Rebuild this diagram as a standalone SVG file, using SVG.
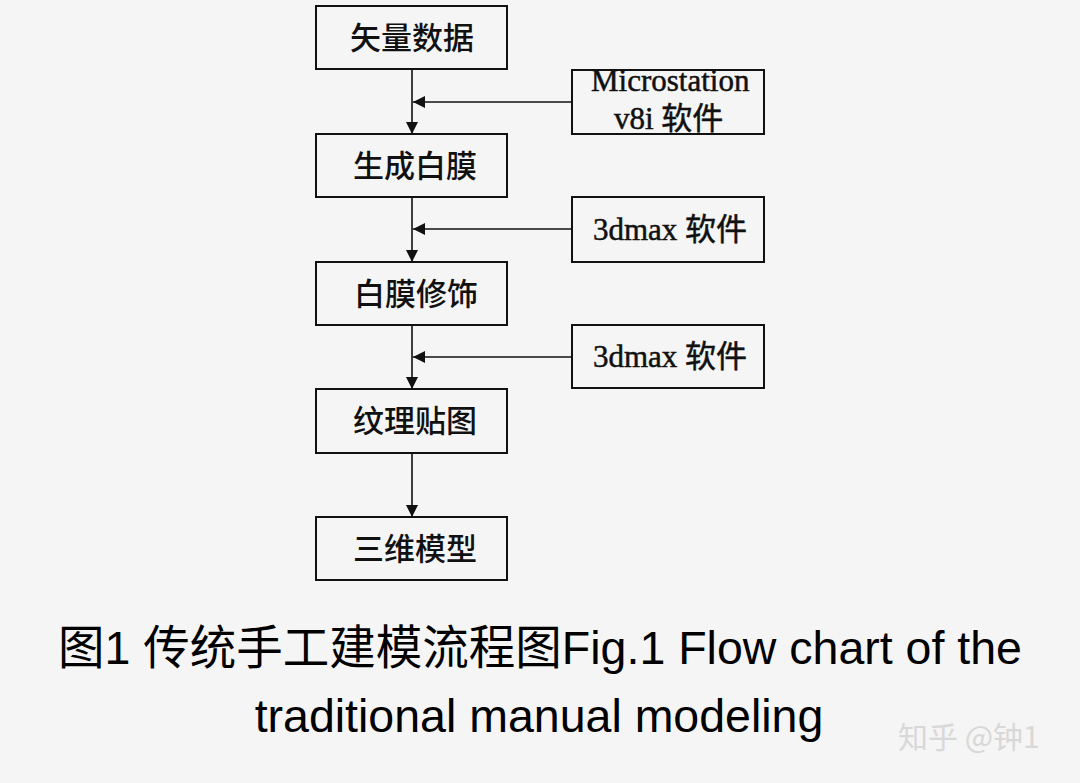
<svg xmlns="http://www.w3.org/2000/svg" width="1080" height="783" viewBox="0 0 1080 783">
<defs>
<style>
.box{fill:none;stroke:#111;stroke-width:2}
.lbl{font-family:"Noto Sans CJK SC","Liberation Serif",serif;font-size:31px;font-weight:500;fill:#111;text-anchor:middle}
.sw{font-family:"Liberation Serif","Noto Sans CJK SC",serif;font-size:31px;fill:#111;stroke:#111;stroke-width:0.5}
.con{stroke:#111;stroke-width:1.6;fill:none;marker-end:url(#ah)}
.cap{font-family:"Liberation Sans","Noto Sans CJK SC",sans-serif;font-size:46.5px;fill:#000;text-anchor:middle}
</style>
<marker id="ah" viewBox="0 0 12 12" refX="12" refY="6" markerWidth="12" markerHeight="12" markerUnits="userSpaceOnUse" orient="auto">
<path d="M0,0 L12,6 L0,12 Z" fill="#111"/>
</marker>
</defs>
<rect width="1080" height="783" fill="#f5f5f5"/>
<g id="n1"><rect class="box" x="316" y="6" width="191" height="63"/><text class="lbl" x="412" y="49">矢量数据</text></g>
<g id="n2"><rect class="box" x="316" y="134" width="191" height="63"/><text class="lbl" x="415" y="177">生成白膜</text></g>
<g id="n3"><rect class="box" x="316" y="262" width="191" height="63"/><text class="lbl" x="416" y="305">白膜修饰</text></g>
<g id="n4"><rect class="box" x="316" y="389" width="191" height="64"/><text class="lbl" x="415" y="432">纹理贴图</text></g>
<g id="n5"><rect class="box" x="316" y="517" width="191" height="63"/><text class="lbl" x="415" y="560">三维模型</text></g>
<g id="s1"><rect class="box" x="572" y="70" width="192" height="64"/><text class="sw" x="591" y="91">Microstation</text><text class="sw" x="614" y="129">v8i 软件</text></g>
<g id="s2"><rect class="box" x="572" y="197" width="192" height="65"/><text class="sw" x="593" y="240">3dmax 软件</text></g>
<g id="s3"><rect class="box" x="572" y="325" width="192" height="63"/><text class="sw" x="593" y="367">3dmax 软件</text></g>
<g id="connectors">
<line class="con" x1="412" y1="69" x2="412" y2="134"/>
<line class="con" x1="412" y1="197" x2="412" y2="262"/>
<line class="con" x1="412" y1="325" x2="412" y2="389"/>
<line class="con" x1="412" y1="453" x2="412" y2="517"/>
<line class="con" x1="572" y1="102" x2="413" y2="102"/>
<line class="con" x1="572" y1="229" x2="413" y2="229"/>
<line class="con" x1="572" y1="357" x2="413" y2="357"/>
</g>
<g id="caption">
<text class="cap" x="540" y="664">图1 传统手工建模流程图Fig.1 Flow chart of the</text>
<text class="cap" x="539" y="732">traditional manual modeling</text>
</g>
<text x="898" y="748" font-family="Noto Sans CJK SC, sans-serif" font-size="30" fill="#d8d8d8">知乎 @钟1</text>
</svg>
